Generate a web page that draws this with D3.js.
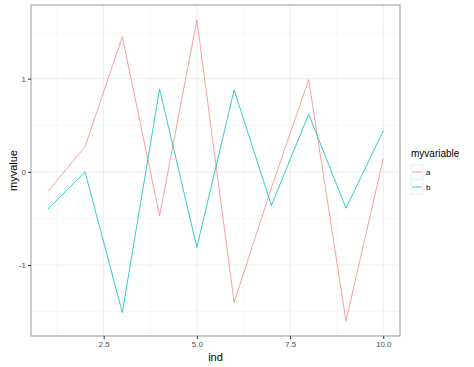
<!DOCTYPE html>
<html>
<head>
<meta charset="utf-8">
<script src="https://cdn.jsdelivr.net/npm/d3@7"></script>
<style>
  body { margin: 0; background: #fff; }
  text { font-family: "Liberation Sans", Arial, sans-serif; }
</style>
</head>
<body>
<div id="chart"></div>
<script>
const width = 474;
const height = 367;

const ind = [1, 2, 3, 4, 5, 6, 7, 8, 9, 10];
const seriesA = [-0.21, 0.27, 1.45, -0.47, 1.63, -1.40, -0.17, 0.99, -1.60, 0.14];
const seriesB = [-0.40, 0.00, -1.51, 0.89, -0.81, 0.88, -0.36, 0.62, -0.39, 0.44];
const seriesNames = ["a", "b"];
const seriesColors = ["#F8766D", "#00BFC4"];

const xTicks = [2.5, 5.0, 7.5, 10.0];
const xMinor = [1.25, 3.75, 6.25, 8.75];
const yTicks = [-1, 0, 1];
const yMinor = [-1.5, -0.5, 0.5, 1.5];

const margin = {top: 5, right: 74, bottom: 31, left: 31};

const svg = d3.select("#chart").append("svg")
   .attr("width", width)
   .attr("height", height);

// ggplot-style 5% expansion
const xExt = d3.extent(ind);
const allY = seriesA.concat(seriesB);
const yExt = d3.extent(allY);
const xPad = (xExt[1] - xExt[0]) * 0.05;
const yPad = (yExt[1] - yExt[0]) * 0.05;

const x = d3.scaleLinear()
   .domain([xExt[0] - xPad, xExt[1] + xPad])
   .range([margin.left, width - margin.right]);

const y = d3.scaleLinear()
   .domain([yExt[0] - yPad, yExt[1] + yPad])
   .range([height - margin.bottom, margin.top]);

const x0 = margin.left, x1 = width - margin.right;
const y0 = margin.top, y1 = height - margin.bottom;

// grid
const grid = svg.append("g");
grid.selectAll("line.xminor").data(xMinor).enter().append("line")
   .attr("x1", d => x(d)).attr("x2", d => x(d))
   .attr("y1", y0).attr("y2", y1)
   .attr("stroke", "#F4F4F4").attr("stroke-width", 0.6);
grid.selectAll("line.yminor").data(yMinor).enter().append("line")
   .attr("x1", x0).attr("x2", x1)
   .attr("y1", d => y(d)).attr("y2", d => y(d))
   .attr("stroke", "#F4F4F4").attr("stroke-width", 0.6);
grid.selectAll("line.xmajor").data(xTicks).enter().append("line")
   .attr("x1", d => x(d)).attr("x2", d => x(d))
   .attr("y1", y0).attr("y2", y1)
   .attr("stroke", "#EBEBEB").attr("stroke-width", 1);
grid.selectAll("line.ymajor").data(yTicks).enter().append("line")
   .attr("x1", x0).attr("x2", x1)
   .attr("y1", d => y(d)).attr("y2", d => y(d))
   .attr("stroke", "#EBEBEB").attr("stroke-width", 1);

// lines
const line = d3.line()
   .x((d, i) => x(ind[i]))
   .y(d => y(d));

[seriesA, seriesB].forEach((s, k) => {
   svg.append("path")
      .datum(s)
      .attr("fill", "none")
      .attr("stroke", seriesColors[k])
      .attr("stroke-width", 1)
      .attr("stroke-opacity", k == 0 ? 0.7 : 0.8)
      .attr("d", line);
});

// border
svg.append("rect")
   .attr("x", x0).attr("y", y0)
   .attr("width", x1 - x0).attr("height", y1 - y0)
   .attr("fill", "none")
   .attr("stroke", "#999")
   .attr("stroke-width", 1);

// axes
const xAxis = d3.axisBottom(x)
   .tickValues(xTicks)
   .tickFormat(d3.format(".1f"))
   .tickSize(3)
   .tickSizeOuter(0);

const gx = svg.append("g")
   .attr("transform", `translate(0,${y1})`)
   .call(xAxis);
gx.select(".domain").remove();
gx.selectAll(".tick line").attr("stroke", "#333");
gx.selectAll(".tick text")
   .attr("fill", "#4D4D4D")
   .attr("font-size", 8)
   .attr("dy", "0.71em")
   .attr("y", 5);

const yAxis = d3.axisLeft(y)
   .tickValues(yTicks)
   .tickFormat(d => String(d))
   .tickSize(3)
   .tickSizeOuter(0);

const gy = svg.append("g")
   .attr("transform", `translate(${x0},0)`)
   .call(yAxis);
gy.select(".domain").remove();
gy.selectAll(".tick line").attr("stroke", "#333");
gy.selectAll(".tick text")
   .attr("fill", "#4D4D4D")
   .attr("font-size", 8)
   .attr("x", -5);

// axis titles
svg.append("text")
   .attr("x", (x0 + x1) / 2)
   .attr("y", 361)
   .attr("text-anchor", "middle")
   .attr("font-size", 11)
   .text("ind");

svg.append("text")
   .attr("transform", `translate(17,${(y0 + y1) / 2}) rotate(-90)`)
   .attr("text-anchor", "middle")
   .attr("font-size", 11)
   .text("myvalue");

// legend
const legend = svg.append("g").attr("transform", "translate(411,145)");
legend.append("text")
   .attr("x", 0).attr("y", 12)
   .attr("font-size", 10)
   .text("myvariable");

seriesNames.forEach((name, i) => {
   const g = legend.append("g").attr("transform", `translate(0,${20 + i * 15})`);
   g.append("rect")
      .attr("x", 0).attr("y", 0)
      .attr("width", 12).attr("height", 14)
      .attr("fill", "#fff")
      .attr("stroke", "#EBEBEB");
   g.append("line")
      .attr("x1", 1).attr("x2", 11)
      .attr("y1", 7).attr("y2", 7)
      .attr("stroke", seriesColors[i])
      .attr("stroke-width", 1)
      .attr("stroke-opacity", i == 0 ? 0.7 : 0.8);
   g.append("text")
      .attr("x", 15).attr("y", 7)
      .attr("dy", "0.35em")
      .attr("font-size", 8)
      .text(name);
});
</script>
</body>
</html>
